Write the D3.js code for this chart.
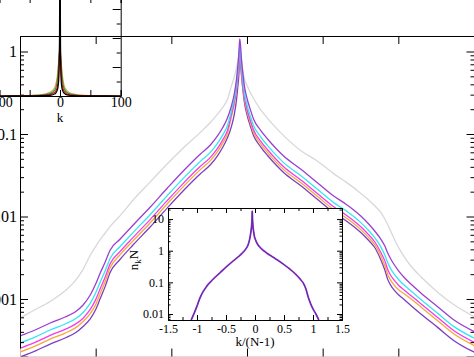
<!DOCTYPE html>
<html><head><meta charset="utf-8">
<script src="https://cdn.jsdelivr.net/npm/d3@7"></script>
<style>
body{margin:0;background:#fff;}
svg{display:block;}
text{font-family:"Liberation Serif","DejaVu Serif",serif;fill:#000;}
</style>
</head><body>
<svg id="c" width="474" height="357"></svg>
<script>
// ---- main plot data: x = k/(N-1), values are log10(n_k) ----
const kx = [-1.5,-1.401,-1.301,-1.202,-1.136,-1.083,-1.036,-1.003,-0.970,-0.937,-0.904,-0.838,-0.752,-0.639,-0.526,-0.421,-0.308,-0.242,-0.195,-0.162,-0.129,-0.103,-0.083,-0.070,-0.060,-0.053,-0.048,-0.043,-0.036,-0.026,-0.017,0.003,0.023,0.043,0.089,0.136,0.189,0.242,0.354,0.467,0.573,0.652,0.705,0.752,0.798,0.844,0.884,0.911,0.930,0.950,0.970,1.003,1.036,1.083,1.149,1.262,1.368,1.507];
const greyLog = [-3.23,-3.13,-3.03,-2.90,-2.78,-2.64,-2.47,-2.37,-2.28,-2.20,-2.12,-1.99,-1.80,-1.58,-1.36,-1.17,-0.98,-0.86,-0.76,-0.68,-0.58,-0.42,-0.30,-0.20,-0.10,-0.02,0.02,-0.03,-0.12,-0.24,-0.33,-0.42,-0.50,-0.57,-0.70,-0.81,-0.92,-1.02,-1.20,-1.33,-1.48,-1.58,-1.65,-1.72,-1.79,-1.87,-1.95,-2.03,-2.10,-2.18,-2.26,-2.38,-2.48,-2.60,-2.73,-2.92,-3.07,-3.22];
const violetLog = [-3.448,-3.376,-3.291,-3.218,-3.158,-3.073,-2.952,-2.830,-2.685,-2.552,-2.406,-2.273,-2.103,-1.885,-1.655,-1.448,-1.242,-1.133,-1.024,-0.927,-0.806,-0.661,-0.503,-0.345,-0.164,-0.006,0.152,0.079,-0.103,-0.285,-0.418,-0.588,-0.709,-0.818,-0.952,-1.061,-1.170,-1.267,-1.424,-1.594,-1.752,-1.848,-1.921,-1.994,-2.079,-2.176,-2.273,-2.358,-2.442,-2.515,-2.576,-2.661,-2.733,-2.818,-2.927,-3.097,-3.255,-3.400];
const cyanLog = [-3.533,-3.461,-3.376,-3.303,-3.243,-3.163,-3.052,-2.940,-2.795,-2.657,-2.506,-2.363,-2.193,-1.975,-1.745,-1.538,-1.332,-1.223,-1.114,-1.017,-0.896,-0.721,-0.563,-0.405,-0.224,-0.066,0.080,-0.001,-0.183,-0.365,-0.498,-0.668,-0.789,-0.898,-1.032,-1.141,-1.250,-1.347,-1.504,-1.674,-1.832,-1.928,-2.001,-2.074,-2.159,-2.256,-2.368,-2.468,-2.562,-2.635,-2.691,-2.766,-2.828,-2.903,-3.007,-3.177,-3.335,-3.480];
const magentaLog = [-3.598,-3.526,-3.441,-3.368,-3.308,-3.233,-3.127,-3.020,-2.875,-2.732,-2.571,-2.423,-2.253,-2.035,-1.805,-1.598,-1.392,-1.283,-1.174,-1.077,-0.956,-0.761,-0.603,-0.445,-0.264,-0.106,0.050,-0.051,-0.233,-0.415,-0.548,-0.718,-0.839,-0.948,-1.082,-1.191,-1.300,-1.397,-1.554,-1.724,-1.882,-1.978,-2.051,-2.124,-2.209,-2.306,-2.433,-2.538,-2.642,-2.715,-2.766,-2.836,-2.888,-2.958,-3.057,-3.227,-3.385,-3.530];
const orangeLog = [-3.643,-3.571,-3.486,-3.413,-3.353,-3.273,-3.177,-3.080,-2.935,-2.787,-2.621,-2.463,-2.293,-2.075,-1.845,-1.638,-1.432,-1.323,-1.214,-1.117,-0.996,-0.791,-0.633,-0.475,-0.294,-0.136,0.030,-0.081,-0.263,-0.445,-0.578,-0.748,-0.869,-0.978,-1.117,-1.226,-1.335,-1.432,-1.589,-1.759,-1.917,-2.013,-2.086,-2.159,-2.244,-2.341,-2.473,-2.598,-2.702,-2.775,-2.826,-2.891,-2.933,-2.998,-3.097,-3.267,-3.425,-3.570];
const indigoLog = [-3.703,-3.631,-3.546,-3.473,-3.413,-3.333,-3.242,-3.140,-2.995,-2.847,-2.676,-2.518,-2.343,-2.125,-1.895,-1.688,-1.482,-1.373,-1.264,-1.167,-1.046,-0.911,-0.753,-0.595,-0.414,-0.256,0.100,-0.121,-0.303,-0.485,-0.618,-0.788,-0.909,-1.018,-1.152,-1.261,-1.370,-1.467,-1.624,-1.794,-1.952,-2.048,-2.121,-2.194,-2.279,-2.376,-2.523,-2.648,-2.762,-2.835,-2.886,-2.951,-3.003,-3.078,-3.182,-3.347,-3.505,-3.650];
const mainXTicks = [-1,-0.5,0,0.5,1];
const mainYTicks = [0.001,0.01,0.1,1];
const mainYLabels = ["0.001","0.01","0.1","1"];

// ---- top-left inset data: k, n_k ----
const tlK = [-100,-60,-40,-30,-20,-15,-10,-7,-5,-3,-2,-1,0,1,2,3,5,7,10,15,20,30,40,60,100];
const tlBlack = [0,0.0005,0.001,0.002,0.004,0.006,0.012,0.02,0.035,0.07,0.12,0.3,1.2,0.25,0.1,0.06,0.03,0.018,0.01,0.005,0.003,0.0015,0.001,0.0005,0];
const tlRed = [0,0.001,0.002,0.004,0.008,0.012,0.022,0.035,0.055,0.11,0.18,0.3,0.45,0.28,0.16,0.1,0.05,0.03,0.018,0.01,0.006,0.003,0.002,0.001,0];
const tlGreen = [0,0.002,0.004,0.007,0.013,0.02,0.035,0.055,0.09,0.17,0.24,0.3,0.34,0.28,0.22,0.15,0.08,0.05,0.03,0.017,0.01,0.005,0.003,0.001,0];
const tlOrange = [0,0.003,0.006,0.01,0.02,0.03,0.05,0.08,0.12,0.2,0.25,0.29,0.3,0.27,0.23,0.18,0.11,0.07,0.045,0.025,0.016,0.008,0.005,0.002,0];
const tlXTicks = [-100,-50,0,50,100];
const tlXLabels = [-100,0,100];
const tlYTicks = [0,0.2,0.4,0.6];
const tlYMinor = [0.1,0.3,0.5,0.7];

// ---- bottom inset data: k/(N-1), log10(n_k N) ----
const bKx = [-1.1,-1.05,-1.0,-0.95,-0.9,-0.85,-0.8,-0.75,-0.7,-0.6,-0.5,-0.4,-0.3,-0.22,-0.16,-0.12,-0.09,-0.07,-0.058,-0.051,-0.047,-0.043,-0.036,-0.025,-0.01,0.01,0.04,0.1,0.2,0.3,0.4,0.5,0.6,0.7,0.78,0.84,0.88,0.92,0.96,1.0,1.05,1.1];
const bLog = [-2.19,-1.98,-1.75,-1.5,-1.31,-1.17,-1.05,-0.95,-0.86,-0.69,-0.52,-0.36,-0.21,-0.08,0.05,0.18,0.38,0.6,0.8,1.0,1.25,1.0,0.8,0.62,0.45,0.34,0.22,0.08,-0.07,-0.19,-0.31,-0.44,-0.58,-0.74,-0.90,-1.05,-1.22,-1.48,-1.68,-1.84,-2.0,-2.19];
const bXTicks = [-1.5,-1,-0.5,0,0.5,1,1.5];
const bXLabels = ["-1.5","-1","-0.5","0","0.5","1","1.5"];
const bXMinor = [-1.25,-0.75,-0.25,0.25,0.75,1.25];
const bYTicks = [0.01,0.1,1,10];
const bYLabels = ["0.01","0.1","1","10"];

const svg = d3.select("#c");
const p10 = v => Math.pow(10, v);
function minorLog(lo, hi) {
  const out = [];
  for (let e = lo; e < hi; e++) for (let m = 2; m <= 9; m++) out.push(m * p10(e));
  return out;
}
function axisG(tx, ty) { return svg.append("g").attr("transform",`translate(${tx},${ty})`); }
function styleAxis(g) { g.select(".domain").attr("stroke","#000"); g.selectAll(".tick line").attr("stroke","#000"); }

// ================= MAIN PLOT =================
const x = d3.scaleLinear().domain([-1.5, 1.51]).range([20, 475.5]);
const y = d3.scaleLog().domain([p10(-3.697), p10(0.188)]).range([356.5, 36]);
svg.append("clipPath").attr("id","mclip").append("rect").attr("x",20).attr("y",36).attr("width",456).attr("height",321);

const series = [
  {v: greyLog, c: "#d8d8d8"},
  {v: indigoLog, c: "#7a3fc0"},
  {v: orangeLog, c: "#f7a83a"},
  {v: magentaLog, c: "#f23ce8"},
  {v: cyanLog, c: "#34e6f2"},
  {v: violetLog, c: "#9a3fd0"}
];
const line = d3.line().x(d => x(d[0])).y(d => y(p10(d[1]))).curve(d3.curveMonotoneX);
const gm = svg.append("g").attr("clip-path","url(#mclip)");
series.forEach(s => {
  gm.append("path").datum(kx.map((k,i)=>[k, s.v[i]]))
    .attr("d", line).attr("fill","none").attr("stroke", s.c).attr("stroke-width",1.3);
});

const mainMinor = minorLog(-4,1).filter(v=>v>p10(-3.697)&&v<p10(0.188));
let g = axisG(20,0).call(d3.axisLeft(y).tickValues(mainYTicks).tickSize(-8).tickPadding(3)
  .tickFormat((d,i)=>mainYLabels[i]));
styleAxis(g); g.selectAll("text").attr("font-size",16);
g = axisG(20,0).call(d3.axisLeft(y).tickValues(mainMinor).tickSize(-4).tickFormat(""));
styleAxis(g); g.select(".domain").remove();
g = axisG(475.5,0).call(d3.axisRight(y).tickValues(mainYTicks).tickSize(-9).tickFormat(""));
styleAxis(g);
g = axisG(475.5,0).call(d3.axisRight(y).tickValues(mainMinor).tickSize(-5).tickFormat(""));
styleAxis(g); g.select(".domain").remove();
g = axisG(0,36).call(d3.axisTop(x).tickValues(mainXTicks).tickSize(-8).tickFormat(""));
styleAxis(g);
g = axisG(0,356.5).call(d3.axisBottom(x).tickValues(mainXTicks).tickSize(-8).tickFormat(""));
styleAxis(g); g.select(".domain").attr("stroke","#bbb");

// ================= TOP-LEFT INSET =================
const tx = d3.scaleLinear().domain([-100,100]).range([-0.7,120.7]);
const ty = d3.scaleLinear().domain([0,0.8]).range([96,-20]);
svg.append("clipPath").attr("id","tlclip").append("rect").attr("x",-2).attr("y",-6).attr("width",122.7).attr("height",102);
const tline = d3.line().x(d=>tx(d[0])).y(d=>ty(d[1])).curve(d3.curveMonotoneX);
const gt = svg.append("g").attr("clip-path","url(#tlclip)");
[{v:tlOrange,c:"#d9a65e"},{v:tlGreen,c:"#2a9a2a"},{v:tlRed,c:"#e01010"},{v:tlBlack,c:"#000"}].forEach(s=>{
  gt.append("path").datum(tlK.map((k,i)=>[k,s.v[i]])).attr("d",tline)
    .attr("fill","none").attr("stroke",s.c).attr("stroke-width",1.2);
});
g = axisG(0,96).call(d3.axisBottom(tx).tickValues(tlXTicks).tickSize(-6).tickPadding(1)
  .tickFormat(d => tlXLabels.includes(d) ? String(d) : ""));
styleAxis(g); g.selectAll("text").attr("font-size",14);
g = axisG(0,-5).call(d3.axisTop(tx).tickValues(tlXTicks).tickSize(-8).tickFormat(""));
styleAxis(g);
g = axisG(120.7,0).call(d3.axisRight(ty).tickValues(tlYTicks).tickSize(-8).tickFormat(""));
styleAxis(g);
g = axisG(120.7,0).call(d3.axisRight(ty).tickValues(tlYMinor).tickSize(-4).tickFormat(""));
styleAxis(g); g.select(".domain").remove();
svg.append("text").attr("x",60).attr("y",122).attr("text-anchor","middle").attr("font-size",13).text("k");

// ================= BOTTOM INSET =================
const bx = d3.scaleLinear().domain([-1.5,1.5]).range([168,342]);
const by = d3.scaleLog().domain([p10(-2.19), p10(1.35)]).range([320,208]);
svg.append("rect").attr("x",168).attr("y",208).attr("width",174).attr("height",112).attr("fill","#fff");
svg.append("clipPath").attr("id","bclip").append("rect").attr("x",168).attr("y",208).attr("width",174).attr("height",112);
const bline = d3.line().x(d=>bx(d[0])).y(d=>by(p10(d[1]))).curve(d3.curveMonotoneX);
const gb = svg.append("g").attr("clip-path","url(#bclip)");
const bData = bKx.map((k,i)=>[k,bLog[i]]);
gb.append("path").datum(bData).attr("d",bline).attr("fill","none").attr("stroke","#9a3fd0").attr("stroke-width",1.8);
gb.append("path").datum(bData).attr("d",bline).attr("fill","none").attr("stroke","#5a2aa0").attr("stroke-width",1);

const bMinorY = minorLog(-3,2).filter(v=>v>p10(-2.19)&&v<p10(1.35));
g = axisG(0,320).call(d3.axisBottom(bx).tickValues(bXTicks).tickSize(-5).tickPadding(4).tickFormat((d,i)=>bXLabels[i]));
styleAxis(g); g.selectAll("text").attr("font-size",12);
g = axisG(0,320).call(d3.axisBottom(bx).tickValues(bXMinor).tickSize(-3).tickFormat("")); styleAxis(g); g.select(".domain").remove();
g = axisG(0,208).call(d3.axisTop(bx).tickValues(bXTicks).tickSize(-5).tickFormat("")); styleAxis(g);
g = axisG(0,208).call(d3.axisTop(bx).tickValues(bXMinor).tickSize(-3).tickFormat("")); styleAxis(g); g.select(".domain").remove();
g = axisG(168,0).call(d3.axisLeft(by).tickValues(bYTicks).tickSize(-5).tickPadding(4).tickFormat((d,i)=>bYLabels[i]));
styleAxis(g); g.selectAll("text").attr("font-size",12);
g = axisG(168,0).call(d3.axisLeft(by).tickValues(bMinorY).tickSize(-2.5).tickFormat("")); styleAxis(g); g.select(".domain").remove();
g = axisG(342,0).call(d3.axisRight(by).tickValues(bYTicks).tickSize(-5).tickFormat("")); styleAxis(g);
g = axisG(342,0).call(d3.axisRight(by).tickValues(bMinorY).tickSize(-2.5).tickFormat("")); styleAxis(g); g.select(".domain").remove();

svg.append("text").attr("x",255).attr("y",346).attr("text-anchor","middle").attr("font-size",13).text("k/(N-1)");
const yl = svg.append("text").attr("transform","translate(138,260) rotate(-90)").attr("text-anchor","middle").attr("font-size",13);
yl.append("tspan").text("n");
yl.append("tspan").attr("font-size",9).attr("dy",3).text("k");
yl.append("tspan").attr("dy",-3).text("N");
</script>
</body></html>
